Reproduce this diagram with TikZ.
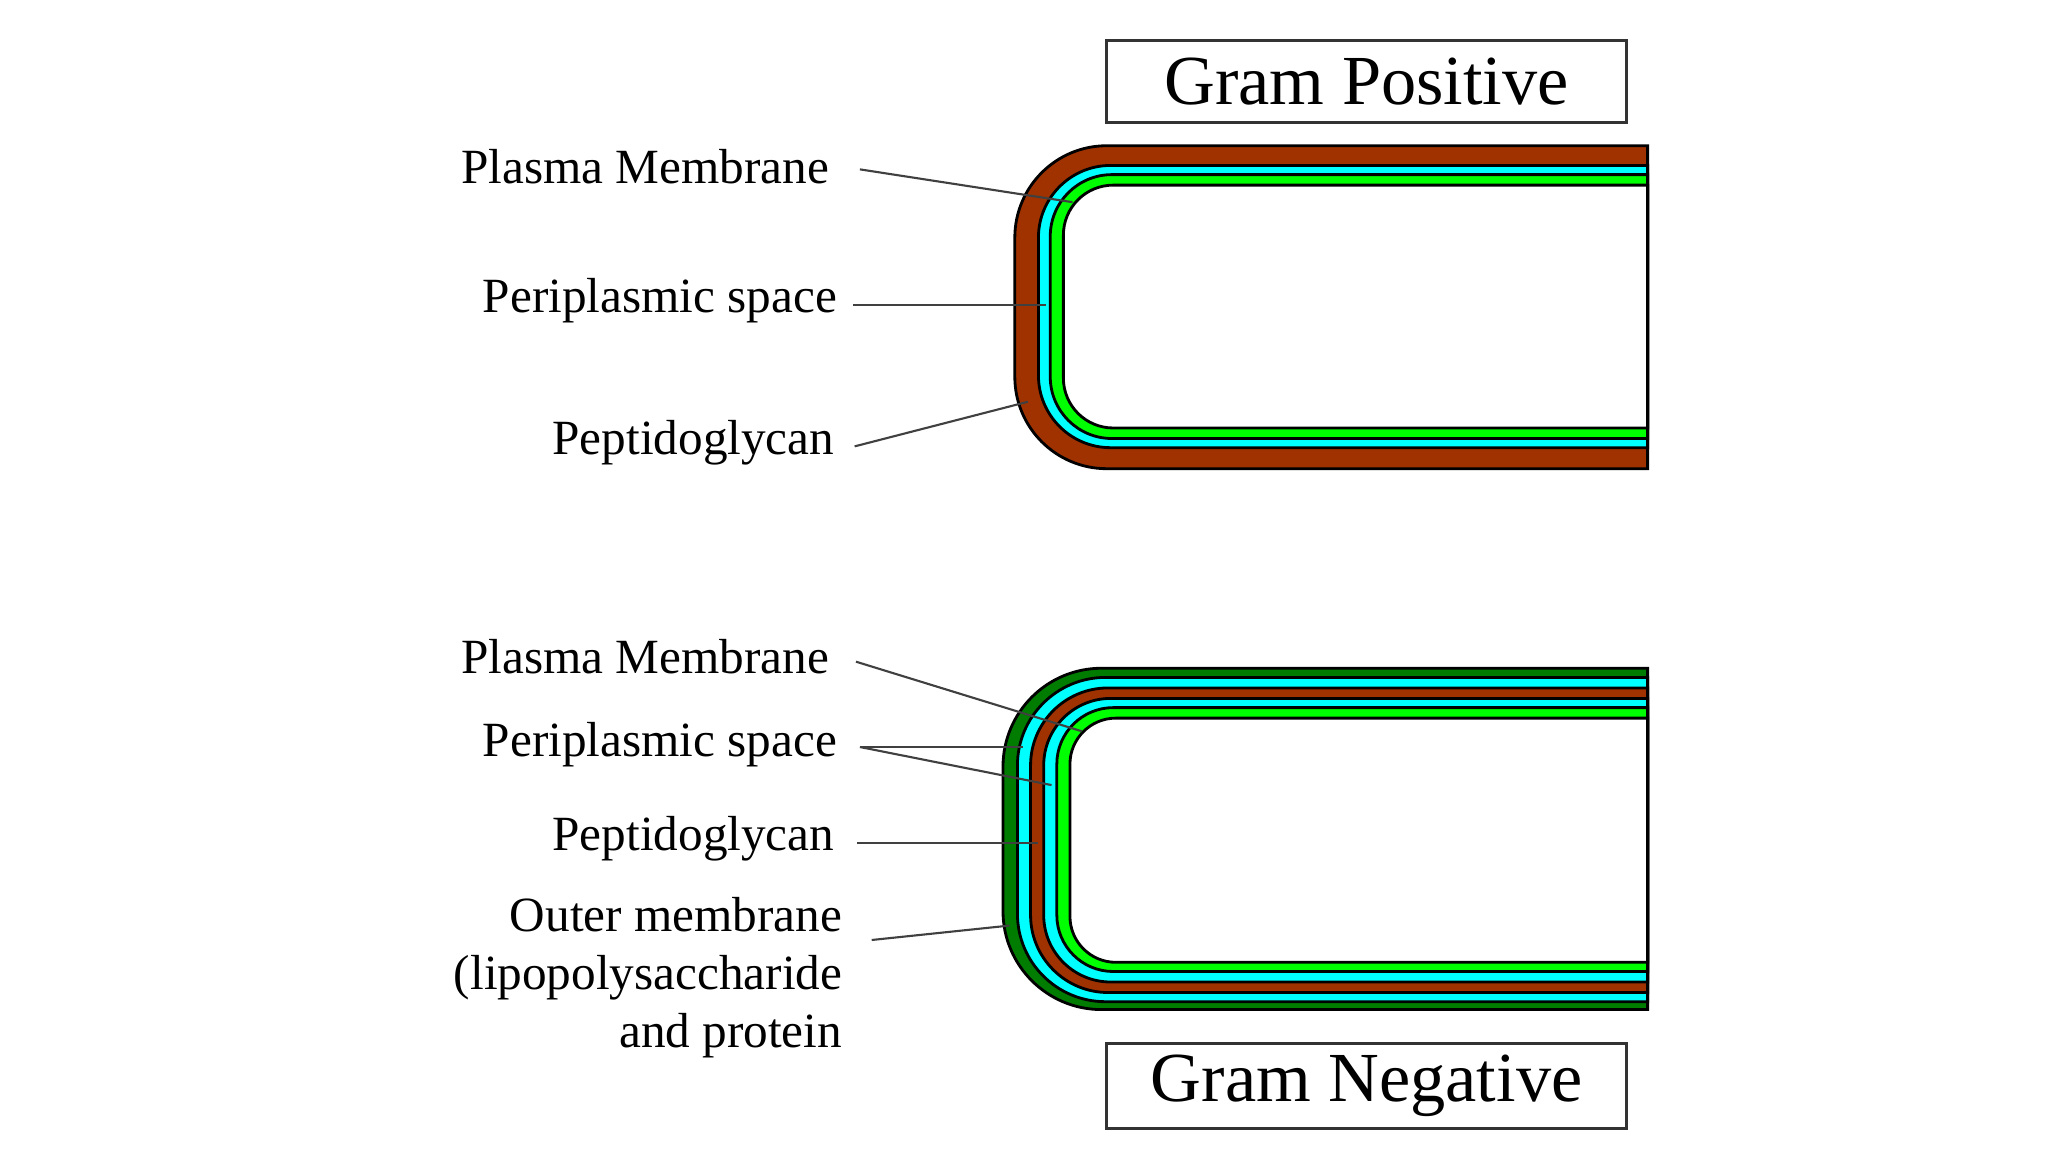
\documentclass[tikz,border=0pt]{standalone}
\usepackage{fontspec}
\setmainfont{Liberation Serif}
\definecolor{brn}{RGB}{160,50,0}
\definecolor{cyn}{RGB}{0,255,255}
\definecolor{grn}{RGB}{0,255,0}
\definecolor{dgrn}{RGB}{0,125,0}
\newcommand\ulayer[5]{%
  \filldraw[layer,fill=#5] (1255,#2) -- ({#1+#4},#2) arc[start angle=270,end angle=180,radius=#4]
  -- (#1,{#3-#4}) arc[start angle=180,end angle=90,radius=#4] -- (1255,#3) -- cycle;}
\begin{document}
\begin{tikzpicture}[x=0.013128cm,y=-0.013128cm,
  layer/.style={draw=black,line width=0.8pt},
  lbl/.style={anchor=east,inner sep=0pt,font=\fontsize{14}{17}\selectfont},
  ttl/.style={draw=black!80,line width=0.8pt,minimum width=396*0.013128cm,minimum height=62*0.013128cm,font=\fontsize{20}{24}\selectfont},
  lead/.style={draw=black!75,line width=0.6pt}]
\useasboundingbox (0,0) rectangle (1560,877.5);
% Gram positive
\ulayer{773}{111}{357}{70}{brn}
\ulayer{791}{126}{341}{55}{cyn}
\ulayer{800}{133}{334}{47}{grn}
\ulayer{810}{141}{326}{38}{white}
% Gram negative
\ulayer{764}{509}{769}{75}{dgrn}
\ulayer{775}{516}{763}{67}{cyn}
\ulayer{785}{524}{756}{59}{brn}
\ulayer{795}{532}{748}{51}{cyn}
\ulayer{805}{539}{740}{43}{grn}
\ulayer{815}{547}{733}{35}{white}
% titles
\node[ttl] (gp) at (1041,62) {Gram Positive};
\node[ttl] (gn) at (1041,827) {Gram Negative};
% labels positive
\node[lbl] (p1) at (632,127) {Plasma Membrane};
\node[lbl] (p2) at (638,229) {Periplasmic space};
\node[lbl] (p3) at (636,337) {Peptidoglycan};
% labels negative
\node[lbl] (n1) at (632,500) {Plasma Membrane};
\node[lbl] (n2) at (638,567) {Periplasmic space};
\node[lbl] (n3) at (636,639) {Peptidoglycan};
\node[lbl,align=right,font=\fontsize{14}{16.5}\selectfont] (n4) at (642,745) {Outer membrane\\(lipopolysaccharide\\and protein};
% leader coordinates
\coordinate (a1) at (655,129); \coordinate (b1) at (817,154);
\coordinate (a2) at (650,232); \coordinate (b2) at (797,232);
\coordinate (a3) at (651,340); \coordinate (b3) at (783,306);
\coordinate (c1) at (652,504); \coordinate (d1) at (824,557);
\coordinate (c2) at (655,569); \coordinate (d2) at (779,569); \coordinate (d2b) at (801,598);
\coordinate (c3) at (653,642); \coordinate (d3) at (791,642);
\coordinate (c4) at (664,716); \coordinate (d4) at (769,705);
\draw[lead] (a1) -- (b1);
\draw[lead] (a2) -- (b2);
\draw[lead] (a3) -- (b3);
\draw[lead] (c1) -- (d1);
\draw[lead] (c2) -- (d2);
\draw[lead] (c2) -- (d2b);
\draw[lead] (c3) -- (d3);
\draw[lead] (c4) -- (d4);
\end{tikzpicture}
\end{document}
